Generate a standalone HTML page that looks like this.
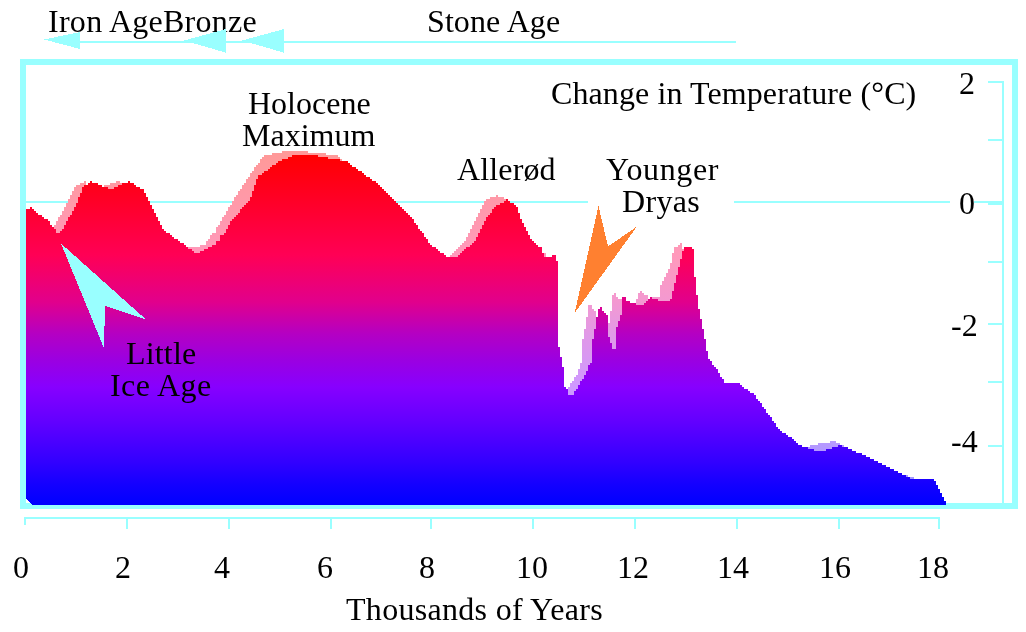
<!DOCTYPE html>
<html><head><meta charset="utf-8">
<style>
html,body{margin:0;padding:0;background:#fff;}
body{width:1026px;height:632px;position:relative;overflow:hidden;font-family:"Liberation Serif",serif;color:#000;}
svg{position:absolute;left:0;top:0;}
.t{position:absolute;font-size:32px;line-height:32px;white-space:nowrap;will-change:transform;}
.bg{background:#fff;}
</style></head><body>
<svg width="1026" height="632" viewBox="0 0 1026 632">
<defs>
<linearGradient id="g" gradientUnits="userSpaceOnUse" x1="0" y1="155" x2="0" y2="504">
<stop offset="0.0000" stop-color="#ff0000"/>
<stop offset="0.2865" stop-color="#ff0055"/>
<stop offset="0.4212" stop-color="#e1008c"/>
<stop offset="0.5129" stop-color="#b400c3"/>
<stop offset="0.5874" stop-color="#9b00e1"/>
<stop offset="0.6648" stop-color="#8700ff"/>
<stop offset="0.7593" stop-color="#6400ff"/>
<stop offset="0.8797" stop-color="#3200ff"/>
<stop offset="0.9427" stop-color="#1400ff"/>
<stop offset="1.0000" stop-color="#0000ff"/>
</linearGradient>
<linearGradient id="gl" gradientUnits="userSpaceOnUse" x1="0" y1="155" x2="0" y2="504">
<stop offset="0.0000" stop-color="#ff9999"/>
<stop offset="0.2865" stop-color="#ff99bb"/>
<stop offset="0.4212" stop-color="#f399d1"/>
<stop offset="0.5129" stop-color="#e199e7"/>
<stop offset="0.5874" stop-color="#d799f3"/>
<stop offset="0.6648" stop-color="#cf99ff"/>
<stop offset="0.7593" stop-color="#c199ff"/>
<stop offset="0.8797" stop-color="#ad99ff"/>
<stop offset="0.9427" stop-color="#a199ff"/>
<stop offset="1.0000" stop-color="#9999ff"/>
</linearGradient>
</defs>
<g fill="#99ffff" shape-rendering="crispEdges">
<!-- top arrow line -->
<rect x="80" y="41" width="656" height="2"/>
<!-- frame -->
<rect x="20" y="59" width="998" height="6"/>
<rect x="20" y="503" width="998" height="6"/>
<rect x="20" y="59" width="6" height="450"/>
<rect x="1012" y="59" width="6" height="450"/>
<!-- zero line -->
<rect x="26" y="201" width="562" height="2"/>
<rect x="734" y="201" width="216" height="2"/>
<rect x="974" y="201" width="28" height="2"/>
<!-- right axis -->
<rect x="1002" y="81" width="2" height="422"/>
<rect x="988" y="81" width="14" height="2"/>
<rect x="988" y="139" width="14" height="2"/>
<rect x="988" y="203" width="14" height="2"/>
<rect x="988" y="261" width="14" height="2"/>
<rect x="988" y="323" width="14" height="2"/>
<rect x="988" y="381" width="14" height="2"/>
<rect x="988" y="445" width="14" height="2"/>
<!-- bottom axis -->
<rect x="24" y="517" width="916" height="2"/>
<rect x="24" y="517" width="2" height="8"/>
<rect x="126" y="517" width="2" height="12"/>
<rect x="228" y="517" width="2" height="12"/>
<rect x="330" y="517" width="2" height="12"/>
<rect x="430" y="517" width="2" height="12"/>
<rect x="532" y="517" width="2" height="12"/>
<rect x="634" y="517" width="2" height="12"/>
<rect x="736" y="517" width="2" height="12"/>
<rect x="838" y="517" width="2" height="12"/>
<rect x="938" y="517" width="2" height="12"/>
</g>

<g shape-rendering="crispEdges">
<polygon fill="url(#gl)" points="26,209 30,209 30,207 32,207 32,209 34,209 34,211 36,211 36,213 38,213 38,215 42,215 42,217 44,217 44,219 48,219 48,221 50,221 50,225 52,225 52,227 54,227 54,225 56,225 56,221 58,221 58,217 60,217 60,215 62,215 62,211 64,211 64,207 66,207 66,203 68,203 68,199 70,199 70,195 72,195 72,191 74,191 74,187 76,187 76,185 80,185 80,183 84,183 84,181 86,181 86,185 88,185 88,183 90,183 90,181 92,181 92,183 98,183 98,185 102,185 102,187 104,187 104,185 110,185 110,183 116,183 116,181 120,181 120,183 128,183 128,181 130,181 130,183 134,183 134,185 136,185 136,187 140,187 140,189 144,189 144,193 146,193 146,197 148,197 148,201 150,201 150,205 152,205 152,209 154,209 154,213 156,213 156,217 158,217 158,221 160,221 160,225 162,225 162,229 164,229 164,231 166,231 166,233 170,233 170,235 172,235 172,237 174,237 174,239 178,239 178,241 180,241 180,243 184,243 184,245 186,245 186,247 200,247 200,245 206,245 206,241 208,241 208,239 210,239 210,235 212,235 212,233 216,233 216,227 218,227 218,225 220,225 220,221 222,221 222,217 224,217 224,215 226,215 226,211 228,211 228,207 230,207 230,205 232,205 232,201 234,201 234,197 236,197 236,195 238,195 238,191 240,191 240,189 242,189 242,185 244,185 244,183 246,183 246,179 248,179 248,177 250,177 250,173 252,173 252,171 254,171 254,167 256,167 256,165 258,165 258,163 260,163 260,159 262,159 262,157 264,157 264,155 272,155 272,153 282,153 282,151 308,151 308,153 326,153 326,155 338,155 338,157 340,157 340,159 342,159 342,161 348,161 348,163 350,163 350,165 352,165 352,167 356,167 356,169 358,169 358,171 362,171 362,173 364,173 364,175 366,175 366,177 370,177 370,179 372,179 372,181 376,181 376,183 378,183 378,185 380,185 380,187 382,187 382,189 384,189 384,191 386,191 386,193 388,193 388,195 390,195 390,197 392,197 392,199 394,199 394,201 396,201 396,203 398,203 398,205 400,205 400,207 402,207 402,209 404,209 404,211 406,211 406,213 408,213 408,215 410,215 410,217 412,217 412,219 414,219 414,223 416,223 416,225 418,225 418,229 420,229 420,231 422,231 422,233 424,233 424,237 426,237 426,239 428,239 428,243 430,243 430,245 432,245 432,247 436,247 436,249 438,249 438,251 440,251 440,253 444,253 444,255 446,255 446,257 450,257 450,255 452,255 452,253 454,253 454,251 456,251 456,249 458,249 458,247 460,247 460,245 462,245 462,243 464,243 464,241 466,241 466,237 468,237 468,233 470,233 470,229 472,229 472,225 474,225 474,221 476,221 476,217 478,217 478,213 480,213 480,209 482,209 482,205 484,205 484,201 486,201 486,199 490,199 490,197 496,197 496,195 498,195 498,197 504,197 504,199 508,199 508,201 510,201 510,203 514,203 514,205 516,205 516,207 518,207 518,213 520,213 520,219 522,219 522,223 524,223 524,227 526,227 526,231 528,231 528,235 530,235 530,239 532,239 532,241 534,241 534,243 536,243 536,245 538,245 538,247 542,247 542,253 546,253 546,257 552,257 552,255 556,255 556,261 558,261 558,347 560,347 560,357 562,357 562,367 564,367 564,387 566,387 566,389 568,389 568,387 570,387 570,383 572,383 572,381 574,381 574,377 576,377 576,375 578,375 578,369 580,369 580,363 582,363 582,339 584,339 584,329 586,329 586,317 588,317 588,305 592,305 592,309 594,309 594,311 596,311 596,317 598,317 598,309 600,309 600,307 602,307 602,311 604,311 604,313 606,313 606,315 608,315 608,323 610,323 610,311 612,311 612,295 614,295 614,293 616,293 616,297 618,297 618,299 622,299 622,297 626,297 626,301 630,301 630,303 636,303 636,299 638,299 638,293 640,293 640,291 642,291 642,293 644,293 644,295 648,295 648,299 650,299 650,297 660,297 660,285 662,285 662,281 664,281 664,277 666,277 666,273 668,273 668,269 670,269 670,263 672,263 672,253 674,253 674,247 678,247 678,245 680,245 680,243 682,243 682,249 684,249 684,247 692,247 692,249 694,249 694,277 696,277 696,295 698,295 698,309 700,309 700,319 702,319 702,329 704,329 704,339 706,339 706,351 708,351 708,359 710,359 710,361 712,361 712,365 714,365 714,367 716,367 716,369 718,369 718,373 720,373 720,377 722,377 722,379 724,379 724,383 740,383 740,385 742,385 742,387 744,387 744,389 748,389 748,391 750,391 750,393 754,393 754,395 756,395 756,399 758,399 758,401 760,401 760,403 762,403 762,407 764,407 764,409 766,409 766,413 768,413 768,415 770,415 770,417 772,417 772,421 774,421 774,423 776,423 776,427 778,427 778,429 780,429 780,431 782,431 782,433 786,433 786,435 788,435 788,437 792,437 792,439 794,439 794,441 796,441 796,443 798,443 798,445 802,445 802,447 810,447 810,445 818,445 818,443 830,443 830,441 836,441 836,443 840,443 840,445 844,445 844,447 848,447 848,449 852,449 852,451 856,451 856,453 862,453 862,455 866,455 866,457 870,457 870,459 874,459 874,461 878,461 878,463 882,463 882,465 886,465 886,467 890,467 890,469 894,469 894,471 898,471 898,473 902,473 902,475 908,475 908,477 914,477 914,479 934,479 934,481 936,481 936,485 938,485 938,489 940,489 940,493 942,493 942,497 944,497 944,501 946,501 946,505 32,505 26,499"/>
<polygon fill="url(#g)" points="26,209 30,209 30,207 32,207 32,209 34,209 34,211 36,211 36,213 38,213 38,215 42,215 42,217 44,217 44,219 48,219 48,221 50,221 50,225 52,225 52,227 54,227 54,229 56,229 56,233 60,233 60,231 62,231 62,229 64,229 64,225 66,225 66,221 68,221 68,217 70,217 70,215 72,215 72,211 74,211 74,207 76,207 76,203 78,203 78,197 80,197 80,193 82,193 82,187 84,187 84,185 88,185 88,183 90,183 90,181 92,181 92,183 98,183 98,185 102,185 102,187 108,187 108,189 114,189 114,187 118,187 118,185 122,185 122,183 128,183 128,181 130,181 130,183 134,183 134,185 136,185 136,187 140,187 140,189 144,189 144,193 146,193 146,197 148,197 148,201 150,201 150,205 152,205 152,209 154,209 154,213 156,213 156,217 158,217 158,221 160,221 160,225 162,225 162,229 164,229 164,231 166,231 166,233 170,233 170,235 172,235 172,237 174,237 174,239 178,239 178,241 180,241 180,243 184,243 184,245 186,245 186,247 188,247 188,249 192,249 192,251 194,251 194,253 200,253 200,251 204,251 204,249 208,249 208,247 212,247 212,245 216,245 216,241 220,241 220,235 224,235 224,233 226,233 226,229 228,229 228,225 230,225 230,221 232,221 232,219 234,219 234,217 236,217 236,215 238,215 238,213 240,213 240,209 242,209 242,207 244,207 244,205 246,205 246,203 248,203 248,201 250,201 250,197 252,197 252,191 254,191 254,185 256,185 256,179 258,179 258,175 262,175 262,173 264,173 264,171 268,171 268,169 270,169 270,167 272,167 272,165 276,165 276,163 278,163 278,161 282,161 282,159 288,159 288,157 292,157 292,155 318,155 318,157 328,157 328,159 340,159 340,161 348,161 348,163 350,163 350,165 352,165 352,167 356,167 356,169 358,169 358,171 362,171 362,173 364,173 364,175 366,175 366,177 370,177 370,179 372,179 372,181 376,181 376,183 378,183 378,185 380,185 380,187 382,187 382,189 384,189 384,191 386,191 386,193 388,193 388,195 390,195 390,197 392,197 392,199 394,199 394,201 396,201 396,203 398,203 398,205 400,205 400,207 402,207 402,209 404,209 404,211 406,211 406,213 408,213 408,215 410,215 410,217 412,217 412,219 414,219 414,223 416,223 416,225 418,225 418,229 420,229 420,231 422,231 422,233 424,233 424,237 426,237 426,239 428,239 428,243 430,243 430,245 432,245 432,247 436,247 436,249 438,249 438,251 440,251 440,253 444,253 444,255 446,255 446,257 458,257 458,255 460,255 460,253 462,253 462,251 464,251 464,249 466,249 466,247 470,247 470,245 472,245 472,243 474,243 474,241 476,241 476,237 478,237 478,233 480,233 480,229 482,229 482,225 484,225 484,221 486,221 486,217 488,217 488,215 490,215 490,213 492,213 492,209 494,209 494,207 496,207 496,205 500,205 500,203 504,203 504,201 506,201 506,199 508,199 508,201 510,201 510,203 514,203 514,205 516,205 516,207 518,207 518,213 520,213 520,219 522,219 522,223 524,223 524,227 526,227 526,231 528,231 528,235 530,235 530,239 532,239 532,241 534,241 534,243 536,243 536,245 538,245 538,247 542,247 542,253 544,253 544,257 552,257 552,255 556,255 556,261 558,261 558,347 560,347 560,357 562,357 562,367 564,367 564,387 566,387 566,389 568,389 568,395 574,395 574,391 576,391 576,389 578,389 578,385 580,385 580,381 582,381 582,379 584,379 584,375 586,375 586,371 588,371 588,365 590,365 590,363 592,363 592,339 594,339 594,329 596,329 596,317 598,317 598,309 600,309 600,307 602,307 602,311 604,311 604,313 606,313 606,315 608,315 608,337 610,337 610,343 612,343 612,349 616,349 616,327 618,327 618,321 620,321 620,315 622,315 622,297 626,297 626,301 630,301 630,303 636,303 636,305 644,305 644,303 646,303 646,301 648,301 648,299 650,299 650,297 652,297 652,299 658,299 658,301 670,301 670,299 672,299 672,291 674,291 674,283 676,283 676,275 678,275 678,267 680,267 680,259 682,259 682,251 684,251 684,247 692,247 692,249 694,249 694,277 696,277 696,295 698,295 698,309 700,309 700,319 702,319 702,329 704,329 704,339 706,339 706,351 708,351 708,359 710,359 710,361 712,361 712,365 714,365 714,367 716,367 716,369 718,369 718,373 720,373 720,377 722,377 722,379 724,379 724,383 740,383 740,385 742,385 742,387 744,387 744,389 748,389 748,391 750,391 750,393 754,393 754,395 756,395 756,399 758,399 758,401 760,401 760,403 762,403 762,407 764,407 764,409 766,409 766,413 768,413 768,415 770,415 770,417 772,417 772,421 774,421 774,423 776,423 776,427 778,427 778,429 780,429 780,431 782,431 782,433 786,433 786,435 788,435 788,437 792,437 792,439 794,439 794,441 796,441 796,443 798,443 798,445 802,445 802,447 808,447 808,449 814,449 814,451 826,451 826,449 832,449 832,447 838,447 838,445 842,445 842,447 848,447 848,449 852,449 852,451 856,451 856,453 862,453 862,455 866,455 866,457 870,457 870,459 874,459 874,461 878,461 878,463 882,463 882,465 886,465 886,467 890,467 890,469 894,469 894,471 898,471 898,473 902,473 902,475 906,475 906,477 910,477 910,479 934,479 934,481 936,481 936,485 938,485 938,489 940,489 940,493 942,493 942,497 944,497 944,501 946,501 946,505 32,505 26,499"/>
</g>
<polygon shape-rendering="crispEdges" fill="#99ffff" points="61,243.5 146,319.5 105.5,306 103.5,347"/>
<polygon shape-rendering="crispEdges" fill="#ff8030" points="574.7,313 598.5,206 608,246.5 636.8,226.6"/>
</svg>
<div class="t" style="left:47.7px;top:5px;letter-spacing:0.28px">Iron Age<span style="letter-spacing:0">B</span>ronze</div>
<div class="t" style="left:426.8px;top:5px;letter-spacing:0.085px">Stone Age</div>
<div class="t" style="left:551px;top:77px;letter-spacing:0.1px">Change in Temperature (°C)</div>
<div class="t" style="left:248px;top:87px;letter-spacing:0px">Holocene</div>
<div class="t" style="left:242px;top:119px;letter-spacing:0px">Maximum</div>
<div class="t" style="left:457px;top:153px;letter-spacing:0.14px">Allerød</div>
<div class="t" style="left:606px;top:153px;letter-spacing:0.6px">Younger</div>
<div class="t" style="left:621.5px;top:185px;letter-spacing:0.34px">Dryas</div>
<div class="t" style="left:126px;top:337px;letter-spacing:0.17px">Little</div>
<div class="t" style="left:110px;top:369px;letter-spacing:0.43px">Ice Age</div>
<div class="t" style="left:346px;top:593px;letter-spacing:0.3px">Thousands of Years</div>
<div class="t" style="left:959px;top:67px">2</div>
<div class="t" style="left:959px;top:187px">0</div>
<div class="t" style="left:951px;top:309px">-2</div>
<div class="t" style="left:951px;top:425px">-4</div>
<div class="t" style="left:13px;top:551px">0</div>
<div class="t" style="left:115px;top:551px">2</div>
<div class="t" style="left:214px;top:551px">4</div>
<div class="t" style="left:317px;top:551px">6</div>
<div class="t" style="left:419px;top:551px">8</div>
<div class="t" style="left:516px;top:551px">10</div>
<div class="t" style="left:617px;top:551px">12</div>
<div class="t" style="left:717px;top:551px">14</div>
<div class="t" style="left:819px;top:551px">16</div>
<div class="t" style="left:917px;top:551px">18</div>
<svg width="1026" height="60" viewBox="0 0 1026 60" style="position:absolute;left:0;top:0">
<g fill="#99ffff" shape-rendering="crispEdges">
<polygon points="44,39.5 80,32 80,49"/>
<polygon points="184,40.5 226,29 226,52.7"/>
<polygon points="242,40.5 284,29 284,52.7"/>
</g>
</svg>
</body></html>
